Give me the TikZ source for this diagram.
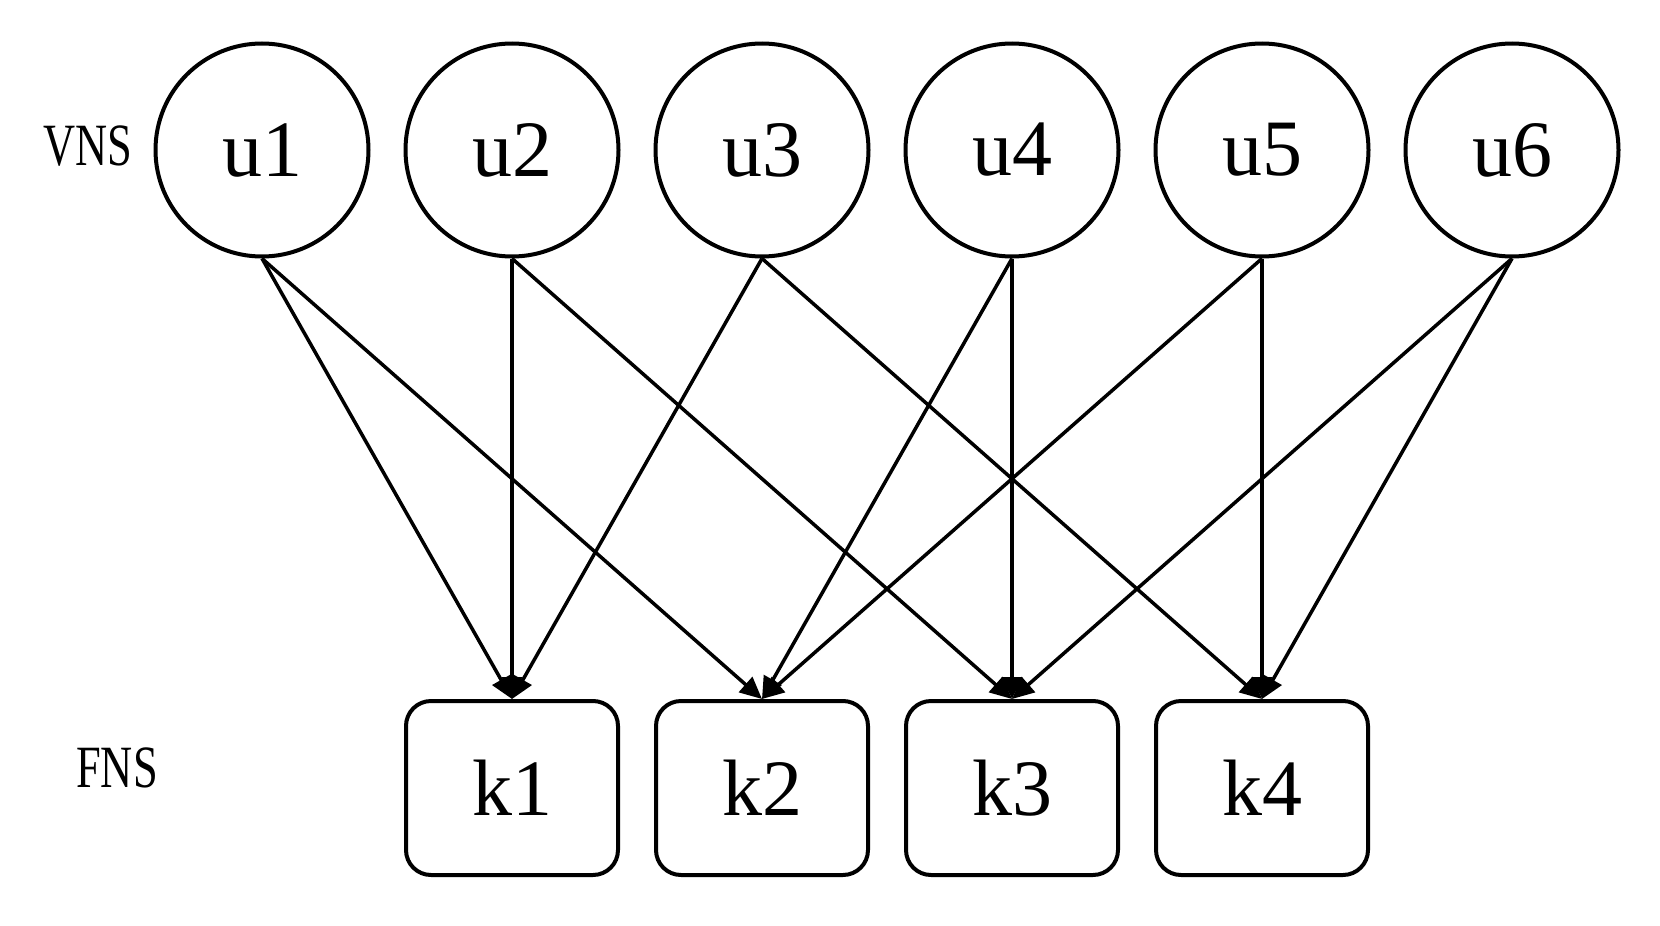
\documentclass[tikz,border=0pt]{standalone}
\usepackage{fontspec}
\setmainfont{Liberation Serif}
\usetikzlibrary{arrows.meta}
\tikzset{
  vnode/.style={draw, circle, line width=4pt, minimum size=213pt, inner sep=0pt,
    font=\fontsize{80}{96}\selectfont},
  fnode/.style={draw, rectangle, rounded corners=25pt, line width=4pt,
    minimum width=212pt, minimum height=174pt, inner sep=0pt,
    font=\fontsize{80}{96}\selectfont},
  lbl/.style={inner sep=0pt, font=\fontsize{60}{72}\selectfont},
  edge/.style={line width=3.5pt, -{Triangle[length=22pt,width=20pt]}}
}
\begin{document}
\begin{tikzpicture}[x=1pt,y=-1pt]
\useasboundingbox (0,0) rectangle (1660,926);
\foreach \i in {1,...,6} {
  \node[vnode] (u\i) at ({262+250*(\i-1)},150) {u\i};
}
\foreach \j in {1,...,4} {
  \node[fnode] (k\j) at ({512+250*(\j-1)},788) {k\j};
}
\node[lbl] (vns) at (88,146) {\scalebox{0.74}[1]{VNS}};
\node[lbl] (fns) at (117,768) {\scalebox{0.74}[1]{FNS}};
\foreach \a/\b in {1/1,1/2,2/1,2/3,3/1,3/4,4/2,4/3,5/2,5/4,6/3,6/4} {
  \draw[edge] (u\a.south) -- (k\b.north);
}
\end{tikzpicture}
\end{document}
